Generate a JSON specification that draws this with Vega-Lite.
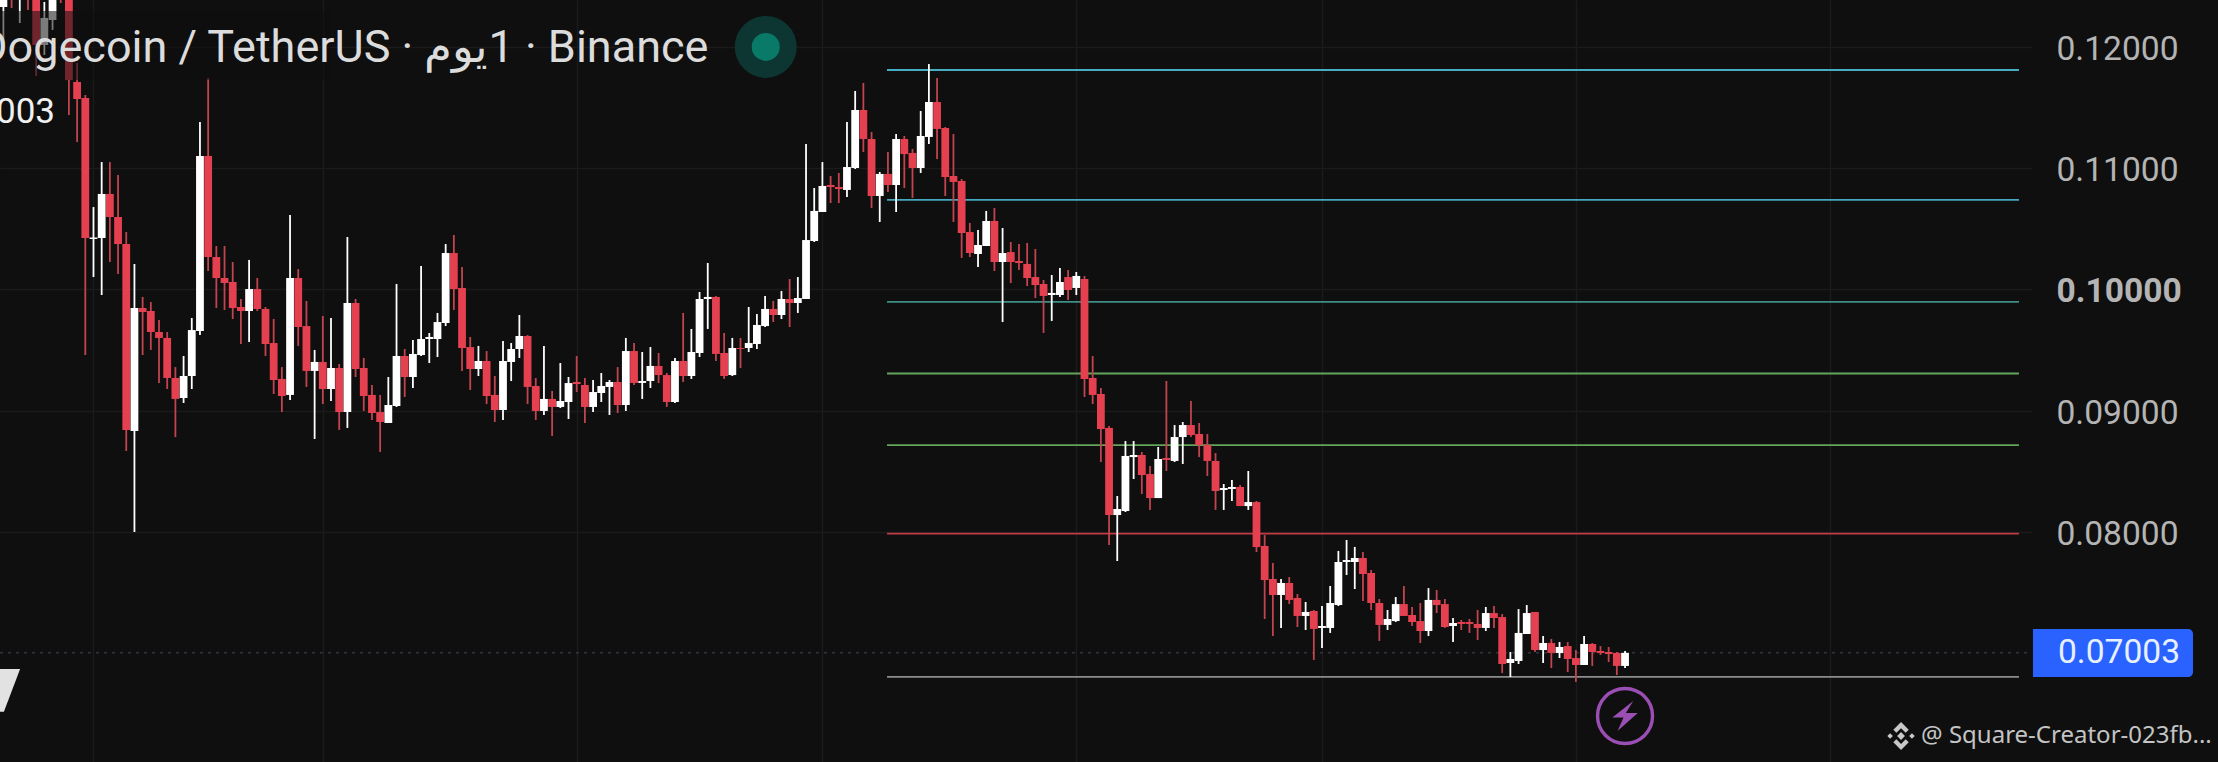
{"$schema":"https://vega.github.io/schema/vega-lite/v6.json","width":2032,"height":762,"autosize":{"type":"none"},"padding":{"left":0,"top":0,"right":186,"bottom":0},"background":"#0f0f0f","view":{"stroke":null},
"datasets":{"candles":[
{"i":0,"o":0.12327,"h":0.12756,"l":0.1203,"c":0.12632},{"i":1,"o":0.12632,"h":0.12715,"l":0.12319,"c":0.12426},{"i":2,"o":0.12426,"h":0.12715,"l":0.12195,"c":0.12591},{"i":3,"o":0.1255,"h":0.12632,"l":0.12303,"c":0.1241},{"i":4,"o":0.12401,"h":0.12632,"l":0.11758,"c":0.12014},{"i":5,"o":0.12014,"h":0.12369,"l":0.11932,"c":0.12237},{"i":6,"o":0.1222,"h":0.1255,"l":0.12138,"c":0.12467},{"i":7,"o":0.12451,"h":0.12467,"l":0.1236,"c":0.12418},{"i":8,"o":0.12401,"h":0.1255,"l":0.11437,"c":0.11725},{"i":9,"o":0.11709,"h":0.11866,"l":0.11214,"c":0.11569},
{"i":10,"o":0.11577,"h":0.11602,"l":0.09458,"c":0.10423},{"i":11,"o":0.10415,"h":0.10678,"l":0.10101,"c":0.10427},{"i":12,"o":0.10423,"h":0.11049,"l":0.09953,"c":0.10786},{"i":13,"o":0.10786,"h":0.11049,"l":0.10225,"c":0.10596},{"i":14,"o":0.10596,"h":0.10942,"l":0.10126,"c":0.10373},{"i":15,"o":0.10373,"h":0.10472,"l":0.08667,"c":0.0884},{"i":16,"o":0.08832,"h":0.10209,"l":0.08,"c":0.09846},{"i":17,"o":0.09846,"h":0.09937,"l":0.09458,"c":0.09813},{"i":18,"o":0.09821,"h":0.09895,"l":0.095,"c":0.09648},{"i":19,"o":0.09648,"h":0.09747,"l":0.09227,"c":0.09599},
{"i":20,"o":0.09599,"h":0.09648,"l":0.09178,"c":0.09269},{"i":21,"o":0.09269,"h":0.09359,"l":0.08782,"c":0.09096},{"i":22,"o":0.09104,"h":0.0945,"l":0.09063,"c":0.09285},{"i":23,"o":0.09285,"h":0.09763,"l":0.09178,"c":0.09664},{"i":24,"o":0.09656,"h":0.11379,"l":0.09623,"c":0.11099},{"i":25,"o":0.11099,"h":0.11742,"l":0.10151,"c":0.10266},{"i":26,"o":0.10266,"h":0.10357,"l":0.09846,"c":0.10093},{"i":27,"o":0.10093,"h":0.10357,"l":0.09829,"c":0.10052},{"i":28,"o":0.1006,"h":0.10225,"l":0.09755,"c":0.09846},{"i":29,"o":0.09854,"h":0.0992,"l":0.09549,"c":0.09821},
{"i":30,"o":0.09821,"h":0.10242,"l":0.09566,"c":0.10002},{"i":31,"o":0.10002,"h":0.10093,"l":0.09821,"c":0.09838},{"i":32,"o":0.09838,"h":0.09854,"l":0.0945,"c":0.09549},{"i":33,"o":0.09557,"h":0.09755,"l":0.09137,"c":0.09252},{"i":34,"o":0.09261,"h":0.09359,"l":0.08988,"c":0.0912},{"i":35,"o":0.09129,"h":0.10613,"l":0.09087,"c":0.10093},{"i":36,"o":0.10093,"h":0.10167,"l":0.09533,"c":0.09689},{"i":37,"o":0.09697,"h":0.09904,"l":0.09195,"c":0.09327},{"i":38,"o":0.09327,"h":0.095,"l":0.08766,"c":0.09401},{"i":39,"o":0.09401,"h":0.0978,"l":0.09054,"c":0.09178},
{"i":40,"o":0.09178,"h":0.09763,"l":0.09079,"c":0.09351},{"i":41,"o":0.09351,"h":0.09384,"l":0.0884,"c":0.08988},{"i":42,"o":0.08988,"h":0.10431,"l":0.08857,"c":0.09887},{"i":43,"o":0.09887,"h":0.0992,"l":0.09277,"c":0.09343},{"i":44,"o":0.09351,"h":0.09434,"l":0.08997,"c":0.0912},{"i":45,"o":0.09129,"h":0.09211,"l":0.08923,"c":0.0898},{"i":46,"o":0.08988,"h":0.09129,"l":0.08659,"c":0.08906},{"i":47,"o":0.08898,"h":0.09277,"l":0.08898,"c":0.09046},{"i":48,"o":0.09038,"h":0.10044,"l":0.0903,"c":0.0945},{"i":49,"o":0.0945,"h":0.09508,"l":0.09112,"c":0.09277},
{"i":50,"o":0.09277,"h":0.09582,"l":0.09186,"c":0.09467},{"i":51,"o":0.09458,"h":0.10192,"l":0.0945,"c":0.0959},{"i":52,"o":0.0959,"h":0.0964,"l":0.09392,"c":0.09607},{"i":53,"o":0.0959,"h":0.09805,"l":0.09442,"c":0.0973},{"i":54,"o":0.09722,"h":0.10373,"l":0.09697,"c":0.10299},{"i":55,"o":0.10299,"h":0.10448,"l":0.09829,"c":0.10002},{"i":56,"o":0.10011,"h":0.10184,"l":0.09327,"c":0.09516},{"i":57,"o":0.09524,"h":0.09607,"l":0.0917,"c":0.09343},{"i":58,"o":0.09343,"h":0.09533,"l":0.09285,"c":0.09409},{"i":59,"o":0.09409,"h":0.09491,"l":0.09054,"c":0.0912},
{"i":60,"o":0.09129,"h":0.09285,"l":0.08906,"c":0.09005},{"i":61,"o":0.09005,"h":0.09574,"l":0.08923,"c":0.09409},{"i":62,"o":0.09401,"h":0.09557,"l":0.09244,"c":0.09508},{"i":63,"o":0.09508,"h":0.09788,"l":0.09434,"c":0.09615},{"i":64,"o":0.09615,"h":0.09623,"l":0.09054,"c":0.09195},{"i":65,"o":0.09203,"h":0.09269,"l":0.08923,"c":0.08997},{"i":66,"o":0.08997,"h":0.09533,"l":0.08964,"c":0.09096},{"i":67,"o":0.09096,"h":0.09162,"l":0.08791,"c":0.0903},{"i":68,"o":0.0903,"h":0.09392,"l":0.09021,"c":0.09079},{"i":69,"o":0.09071,"h":0.09277,"l":0.08931,"c":0.09227},
{"i":70,"o":0.09236,"h":0.0945,"l":0.09153,"c":0.09219},{"i":71,"o":0.09211,"h":0.09269,"l":0.08898,"c":0.0903},{"i":72,"o":0.0903,"h":0.09252,"l":0.08988,"c":0.09153},{"i":73,"o":0.09145,"h":0.0931,"l":0.09071,"c":0.09203},{"i":74,"o":0.09195,"h":0.09252,"l":0.08964,"c":0.09236},{"i":75,"o":0.09236,"h":0.09359,"l":0.0898,"c":0.09046},{"i":76,"o":0.09046,"h":0.09599,"l":0.08997,"c":0.09491},{"i":77,"o":0.09491,"h":0.09557,"l":0.09211,"c":0.09228},{"i":78,"o":0.09228,"h":0.09483,"l":0.09096,"c":0.09244},{"i":79,"o":0.09244,"h":0.09524,"l":0.09186,"c":0.09368},
{"i":80,"o":0.09368,"h":0.09475,"l":0.09227,"c":0.09293},{"i":81,"o":0.09293,"h":0.0931,"l":0.0903,"c":0.09071},{"i":82,"o":0.09071,"h":0.09434,"l":0.09063,"c":0.09409},{"i":83,"o":0.09409,"h":0.09805,"l":0.09236,"c":0.09285},{"i":84,"o":0.09285,"h":0.09673,"l":0.09261,"c":0.09483},{"i":85,"o":0.09475,"h":0.09978,"l":0.09442,"c":0.0992},{"i":86,"o":0.0992,"h":0.10217,"l":0.09673,"c":0.09937},{"i":87,"o":0.09937,"h":0.09945,"l":0.09409,"c":0.09467},{"i":88,"o":0.09475,"h":0.0964,"l":0.09261,"c":0.09285},{"i":89,"o":0.09293,"h":0.09599,"l":0.09285,"c":0.09516},
{"i":90,"o":0.09516,"h":0.09599,"l":0.09351,"c":0.09508},{"i":91,"o":0.09516,"h":0.09854,"l":0.09483,"c":0.09557},{"i":92,"o":0.09549,"h":0.09796,"l":0.09508,"c":0.09706},{"i":93,"o":0.09697,"h":0.09945,"l":0.09689,"c":0.09838},{"i":94,"o":0.09838,"h":0.09904,"l":0.0973,"c":0.09788},{"i":95,"o":0.09788,"h":0.09986,"l":0.09755,"c":0.0992},{"i":96,"o":0.0992,"h":0.10085,"l":0.09689,"c":0.09887},{"i":97,"o":0.09887,"h":0.10101,"l":0.09805,"c":0.09928},{"i":98,"o":0.0992,"h":0.11198,"l":0.0992,"c":0.10406},{"i":99,"o":0.10398,"h":0.10835,"l":0.1039,"c":0.10646},
{"i":100,"o":0.10637,"h":0.11049,"l":0.10637,"c":0.10852},{"i":101,"o":0.1086,"h":0.10934,"l":0.10711,"c":0.10843},{"i":102,"o":0.10843,"h":0.10959,"l":0.10711,"c":0.10827},{"i":103,"o":0.10819,"h":0.11379,"l":0.10761,"c":0.11008},{"i":104,"o":0.11,"h":0.11635,"l":0.10992,"c":0.11478},{"i":105,"o":0.11478,"h":0.11701,"l":0.11132,"c":0.11239},{"i":106,"o":0.11239,"h":0.11297,"l":0.1067,"c":0.10769},{"i":107,"o":0.10769,"h":0.10967,"l":0.10555,"c":0.10951},{"i":108,"o":0.10951,"h":0.11132,"l":0.10802,"c":0.1086},{"i":109,"o":0.1086,"h":0.1128,"l":0.10637,"c":0.11239},
{"i":110,"o":0.11239,"h":0.11264,"l":0.10835,"c":0.11115},{"i":111,"o":0.11124,"h":0.11157,"l":0.10753,"c":0.11},{"i":112,"o":0.11,"h":0.1147,"l":0.10959,"c":0.11264},{"i":113,"o":0.11256,"h":0.11857,"l":0.11198,"c":0.11544},{"i":114,"o":0.11544,"h":0.11742,"l":0.11074,"c":0.11322},{"i":115,"o":0.1133,"h":0.11338,"l":0.10769,"c":0.10926},{"i":116,"o":0.10934,"h":0.1128,"l":0.10555,"c":0.10885},{"i":117,"o":0.10893,"h":0.10909,"l":0.10258,"c":0.10464},{"i":118,"o":0.10472,"h":0.10547,"l":0.10266,"c":0.10299},{"i":119,"o":0.10291,"h":0.10489,"l":0.10184,"c":0.10365},
{"i":120,"o":0.10357,"h":0.10646,"l":0.10357,"c":0.10563},{"i":121,"o":0.10563,"h":0.1067,"l":0.10151,"c":0.10225},{"i":122,"o":0.10225,"h":0.10505,"l":0.0973,"c":0.10299},{"i":123,"o":0.10307,"h":0.1039,"l":0.10052,"c":0.10225},{"i":124,"o":0.10233,"h":0.10373,"l":0.10159,"c":0.10217},{"i":125,"o":0.10209,"h":0.10382,"l":0.10027,"c":0.10093},{"i":126,"o":0.10101,"h":0.10332,"l":0.09928,"c":0.10035},{"i":127,"o":0.10044,"h":0.10077,"l":0.0964,"c":0.09945},{"i":128,"o":0.09953,"h":0.10118,"l":0.09739,"c":0.0997},{"i":129,"o":0.09953,"h":0.10176,"l":0.09937,"c":0.1006},
{"i":130,"o":0.10101,"h":0.10159,"l":0.09912,"c":0.09994},{"i":131,"o":0.10011,"h":0.10143,"l":0.09953,"c":0.1011},{"i":132,"o":0.10085,"h":0.1011,"l":0.09112,"c":0.09261},{"i":133,"o":0.09269,"h":0.0945,"l":0.09054,"c":0.09129},{"i":134,"o":0.09137,"h":0.09186,"l":0.08576,"c":0.08848},{"i":135,"o":0.08857,"h":0.08873,"l":0.07892,"c":0.08139},{"i":136,"o":0.08139,"h":0.08296,"l":0.0776,"c":0.08189},{"i":137,"o":0.08172,"h":0.08749,"l":0.08164,"c":0.08626},{"i":138,"o":0.08617,"h":0.08749,"l":0.08436,"c":0.08634},{"i":139,"o":0.08634,"h":0.08659,"l":0.08312,"c":0.08469},
{"i":140,"o":0.08477,"h":0.08543,"l":0.08181,"c":0.08279},{"i":141,"o":0.08279,"h":0.087,"l":0.08279,"c":0.08601},{"i":142,"o":0.08609,"h":0.09244,"l":0.08502,"c":0.08593},{"i":143,"o":0.08585,"h":0.08881,"l":0.08576,"c":0.08782},{"i":144,"o":0.08782,"h":0.08906,"l":0.0856,"c":0.08881},{"i":145,"o":0.08881,"h":0.09079,"l":0.08782,"c":0.08799},{"i":146,"o":0.08807,"h":0.08898,"l":0.08617,"c":0.08716},{"i":147,"o":0.08716,"h":0.08807,"l":0.08461,"c":0.08585},{"i":148,"o":0.08585,"h":0.0865,"l":0.08181,"c":0.08337},{"i":149,"o":0.08345,"h":0.08395,"l":0.08181,"c":0.08362},
{"i":150,"o":0.08354,"h":0.08428,"l":0.08255,"c":0.0837},{"i":151,"o":0.0837,"h":0.08387,"l":0.08213,"c":0.08213},{"i":152,"o":0.08213,"h":0.08502,"l":0.08181,"c":0.08246},{"i":153,"o":0.08246,"h":0.08255,"l":0.07834,"c":0.07875},{"i":154,"o":0.07884,"h":0.07974,"l":0.07282,"c":0.07603},{"i":155,"o":0.07612,"h":0.07744,"l":0.07142,"c":0.0748},{"i":156,"o":0.0748,"h":0.07612,"l":0.07208,"c":0.07579},{"i":157,"o":0.07579,"h":0.07628,"l":0.07406,"c":0.07439},{"i":158,"o":0.07455,"h":0.07488,"l":0.07216,"c":0.07307},{"i":159,"o":0.07307,"h":0.07422,"l":0.07191,"c":0.0734},
{"i":160,"o":0.07348,"h":0.07356,"l":0.06944,"c":0.072},{"i":161,"o":0.07208,"h":0.07389,"l":0.07043,"c":0.07224},{"i":162,"o":0.07208,"h":0.07554,"l":0.07167,"c":0.07414},{"i":163,"o":0.07397,"h":0.07843,"l":0.07389,"c":0.07752},{"i":164,"o":0.07752,"h":0.07933,"l":0.07645,"c":0.07768},{"i":165,"o":0.07752,"h":0.07876,"l":0.07529,"c":0.07785},{"i":166,"o":0.07785,"h":0.07834,"l":0.0743,"c":0.07653},{"i":167,"o":0.07661,"h":0.07686,"l":0.07356,"c":0.07414},{"i":168,"o":0.07414,"h":0.07447,"l":0.07101,"c":0.07233},{"i":169,"o":0.07233,"h":0.07356,"l":0.07191,"c":0.07282},
{"i":170,"o":0.07265,"h":0.07463,"l":0.07257,"c":0.07405},{"i":171,"o":0.07405,"h":0.07554,"l":0.07307,"c":0.07307},{"i":172,"o":0.07315,"h":0.07381,"l":0.07224,"c":0.07257},{"i":173,"o":0.07265,"h":0.07414,"l":0.07084,"c":0.07183},{"i":174,"o":0.07183,"h":0.07537,"l":0.07142,"c":0.07439},{"i":175,"o":0.07439,"h":0.07521,"l":0.07331,"c":0.07397},{"i":176,"o":0.07405,"h":0.07447,"l":0.07208,"c":0.07216},{"i":177,"o":0.07224,"h":0.0729,"l":0.07092,"c":0.07249},{"i":178,"o":0.07257,"h":0.07274,"l":0.07191,"c":0.07241},{"i":179,"o":0.07257,"h":0.07282,"l":0.07167,"c":0.07241},
{"i":180,"o":0.07241,"h":0.07356,"l":0.07109,"c":0.07208},{"i":181,"o":0.07208,"h":0.07381,"l":0.07183,"c":0.07331},{"i":182,"o":0.07331,"h":0.07389,"l":0.07208,"c":0.0729},{"i":183,"o":0.07298,"h":0.07323,"l":0.06837,"c":0.06911},{"i":184,"o":0.06919,"h":0.0701,"l":0.06804,"c":0.06952},{"i":185,"o":0.06936,"h":0.07364,"l":0.06911,"c":0.07167},{"i":186,"o":0.07158,"h":0.07397,"l":0.07158,"c":0.07331},{"i":187,"o":0.0734,"h":0.0734,"l":0.0701,"c":0.07026},{"i":188,"o":0.07026,"h":0.07142,"l":0.06919,"c":0.07084},{"i":189,"o":0.07084,"h":0.07117,"l":0.06878,"c":0.07002},
{"i":190,"o":0.07002,"h":0.07092,"l":0.0696,"c":0.07051},{"i":191,"o":0.07059,"h":0.07092,"l":0.06845,"c":0.06952},{"i":192,"o":0.0696,"h":0.07026,"l":0.06763,"c":0.06903},{"i":193,"o":0.06903,"h":0.07142,"l":0.06903,"c":0.07076},{"i":194,"o":0.07076,"h":0.07084,"l":0.06895,"c":0.0701},{"i":195,"o":0.07018,"h":0.07059,"l":0.06985,"c":0.07002},{"i":196,"o":0.0701,"h":0.07051,"l":0.06927,"c":0.06993},{"i":197,"o":0.07002,"h":0.0701,"l":0.0682,"c":0.06895},{"i":198,"o":0.06895,"h":0.07018,"l":0.06878,"c":0.07003}
]},
"layer":[
{"data":{"values":[{"i":-0.415,"i2":247.69,"p":0.07003}]},"mark":{"type":"rule","stroke":"#33333f","strokeWidth":1.5,"strokeDash":[3,5]},
"encoding":{"x":{"field":"i","type":"quantitative","scale":{"domain":[-0.415,247.69],"nice":false,"zero":false,"padding":0},"axis":{"values":[11,39,70,100,131,161,192,223],"grid":true,"gridColor":"#1b1b1b","gridWidth":1.5,"labels":false,"ticks":false,"domain":false,"title":null}},"x2":{"field":"i2"},
"y":{"field":"p","type":"quantitative","scale":{"domain":[0.06103,0.12385],"nice":false,"zero":false},"axis":{"orient":"right","values":[0.08,0.09,0.1,0.11,0.12],"format":".5f","grid":true,"gridColor":"#1b1b1b","gridWidth":1.5,"ticks":false,"domain":false,"title":null,"labelFont":"Roboto","labelFontSize":33.6,"labelColor":"#b4b4b4","labelPadding":24,"labelOffset":2.5,"labelFontWeight":{"condition":{"test":"abs(datum.value-0.1)<0.000001","value":"bold"},"value":"normal"}}}}},
{"data":{"values":[{"level":"1","p":0.11808},{"level":"0.786","p":0.10737},{"level":"0.618","p":0.09897},{"level":"0.5","p":0.09306},{"level":"0.382","p":0.08716},{"level":"0.236","p":0.07985},{"level":"0","p":0.06804}]},"mark":{"type":"rule","strokeWidth":1.8},
"encoding":{"x":{"datum":107.89,"type":"quantitative"},"x2":{"datum":246.1},"y":{"field":"p","type":"quantitative"},"color":{"field":"level","type":"nominal","legend":null,"scale":{"domain":["1","0.786","0.618","0.5","0.382","0.236","0"],"range":["#45aec4","#45aabf","#3f8f88","#63a55a","#63a55a","#c23a44","#8c8c8c"]}}}},
{"data":{"name":"candles"},"mark":{"type":"rule","strokeWidth":1.8},
"encoding":{"x":{"field":"i","type":"quantitative"},"y":{"field":"h","type":"quantitative"},"y2":{"field":"l"},"color":{"condition":{"test":"datum.c>=datum.o","value":"#ffffff"},"value":"#c2444f"}}},
{"data":{"name":"candles"},"mark":{"type":"bar","size":7.8},
"encoding":{"x":{"field":"i","type":"quantitative","scale":{"padding":0}},"y":{"field":"o","type":"quantitative"},"y2":{"field":"c"},"color":{"condition":{"test":"datum.c>=datum.o","value":"#ffffff"},"value":"#e4404f"}}},
{"data":{"values":[{"i":-0.415,"i2":40,"p":0.12294,"p2":0.11725}]},"mark":{"type":"rect","fill":"#0f0f0f","opacity":0.55},
"encoding":{"x":{"field":"i","type":"quantitative"},"x2":{"field":"i2"},"y":{"field":"p","type":"quantitative"},"y2":{"field":"p2"}}},
{"data":{"values":[{"i":-3.1,"p":0.11874,"label":"Dogecoin / TetherUS · يوم‎1 · Binance"}]},"mark":{"type":"text","font":"Roboto","fontSize":45,"align":"left","baseline":"alphabetic","fill":"#dcdcdc"},
"encoding":{"x":{"field":"i","type":"quantitative"},"y":{"field":"p","type":"quantitative"},"text":{"field":"label"}}},
{"data":{"values":[{"i":6.3,"p":0.11371,"label":"003"}]},"mark":{"type":"text","font":"Roboto","fontSize":35,"align":"right","baseline":"alphabetic","fill":"#f0f0f0"},
"encoding":{"x":{"field":"i","type":"quantitative"},"y":{"field":"p","type":"quantitative"},"text":{"field":"label"}}},
{"data":{"values":[{"i":93.08,"p":0.11998}]},"mark":{"type":"point","shape":"circle","filled":true,"size":3844,"fill":"#0d3531","opacity":1},
"encoding":{"x":{"field":"i","type":"quantitative"},"y":{"field":"p","type":"quantitative"}}},
{"data":{"values":[{"i":93.08,"p":0.11998}]},"mark":{"type":"point","shape":"circle","filled":true,"size":784,"fill":"#0a7a68","opacity":1},
"encoding":{"x":{"field":"i","type":"quantitative"},"y":{"field":"p","type":"quantitative"}}},
{"data":{"values":[{"i":-0.415,"p":0.06697}]},"mark":{"type":"point","shape":"M-1,-0.7L0.67,-0.7L0.13,0.73L-1,0.73Z","filled":true,"size":3600,"fill":"#e2e2e2","opacity":1},
"encoding":{"x":{"field":"i","type":"quantitative"},"y":{"field":"p","type":"quantitative"}}},
{"data":{"values":[{"i":247.81,"i2":267.35,"p":0.072,"p2":0.06804}]},"mark":{"type":"rect","fill":"#2962ff","cornerRadiusTopRight":5,"cornerRadiusBottomRight":5,"clip":false},
"encoding":{"x":{"field":"i","type":"quantitative"},"x2":{"field":"i2"},"y":{"field":"p","type":"quantitative"},"y2":{"field":"p2"}}},
{"data":{"values":[{"i":250.86,"p":0.07003,"label":"0.07003"}]},"mark":{"type":"text","font":"Roboto","fontSize":33.6,"align":"left","baseline":"middle","fill":"#e6f0ff"},
"encoding":{"x":{"field":"i","type":"quantitative"},"y":{"field":"p","type":"quantitative"},"text":{"field":"label"}}},
{"data":{"values":[{"i":198,"p":0.06482}]},"mark":{"type":"point","shape":"circle","filled":false,"size":3025,"stroke":"#9b4fb5","strokeWidth":3.4,"opacity":1},
"encoding":{"x":{"field":"i","type":"quantitative"},"y":{"field":"p","type":"quantitative"}}},
{"data":{"values":[{"i":198,"p":0.06482}]},"mark":{"type":"point","shape":"M0.55,-1L-0.85,0.1L-0.1,0.1L-0.5,1L0.85,-0.2L0.05,-0.2Z","filled":true,"size":900,"fill":"#9b4fb5","opacity":1},
"encoding":{"x":{"field":"i","type":"quantitative"},"y":{"field":"p","type":"quantitative"}}},
{"data":{"values":[{"i":231.7,"p":0.06317}]},"mark":{"type":"point","shape":"M0,-0.28L0.28,0L0,0.28L-0.28,0ZM-0.78,-0.2L-0.58,0L-0.78,0.2L-0.98,0ZM0.78,-0.2L0.98,0L0.78,0.2L0.58,0ZM0,-1L0.55,-0.45L0.33,-0.23L0,-0.56L-0.33,-0.23L-0.55,-0.45ZM0,1L0.55,0.45L0.33,0.23L0,0.56L-0.33,0.23L-0.55,0.45Z","filled":true,"size":784,"fill":"#c8c8c8","opacity":1},
"encoding":{"x":{"field":"i","type":"quantitative"},"y":{"field":"p","type":"quantitative"}}},
{"data":{"values":[{"i":234.15,"p":0.0626,"label":"@ Square-Creator-023fb..."}]},"mark":{"type":"text","font":"Noto Sans","fontSize":24,"align":"left","baseline":"alphabetic","fill":"#c4c4c4"},
"encoding":{"x":{"field":"i","type":"quantitative"},"y":{"field":"p","type":"quantitative"},"text":{"field":"label"}}}
]}
